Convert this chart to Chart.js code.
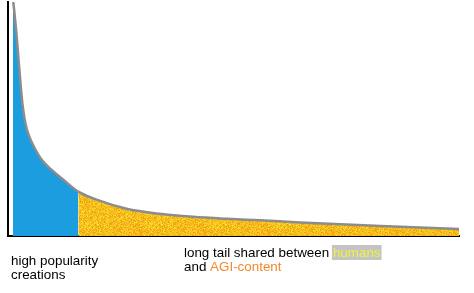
<!DOCTYPE html>
<html>
<head>
<title>Long tail</title>
<script src="https://cdn.jsdelivr.net/npm/chart.js"></script>
<style>
  body { margin: 0; background: #fff; }
  #wrap { width: 474px; height: 293px; }
</style>
</head>
<body>
<div id="wrap"><canvas id="tailChart" width="474" height="293"></canvas></div>
<script>
// popularity curve (x = rank, y = popularity)
var rankX = [5, 8, 10.5, 13, 14.5, 16.7, 19, 22.7, 27.7, 34, 44, 56, 70, 91, 118, 151, 184, 218, 251, 291, 371, 449];
var popY = [235, 205, 175, 145, 130, 115, 105, 95, 85, 75, 65, 55, 44, 35, 27, 22, 19, 17, 15.5, 13.5, 10, 7];
var headEnd = 70; // ranks up to here are the "high popularity" part

var headLabel = ['high popularity', 'creations'];
var tailLine1 = 'long tail shared between ';
var tailWord1 = 'humans';
var tailLine2 = 'and ';
var tailWord2 = 'AGI-content';

// speckled yellow/orange texture for the tail area
function noisePattern(ctx) {
  var c = document.createElement('canvas');
  c.width = 64; c.height = 64;
  var g = c.getContext('2d');
  var img = g.createImageData(64, 64);
  var seed = 12345;
  function rnd() { seed = (seed * 1103515245 + 12345) & 0x7fffffff; return seed / 0x7fffffff; }
  for (var i = 0; i < 64 * 64; i++) {
    var t = rnd();
    img.data[i * 4] = 250 - t * 10;
    img.data[i * 4 + 1] = 225 - t * 70;
    img.data[i * 4 + 2] = 40 - t * 20;
    img.data[i * 4 + 3] = 255;
  }
  g.putImageData(img, 0, 0);
  return ctx.createPattern(c, 'repeat');
}

var textPlugin = {
  id: 'captions',
  afterDraw: function (chart) {
    var ctx = chart.ctx;
    ctx.save();
    ctx.font = '13.4px "Liberation Sans", Arial, sans-serif';
    ctx.textBaseline = 'middle';
    ctx.fillStyle = '#000';
    ctx.fillText(headLabel[0], 11, 261);
    ctx.fillText(headLabel[1], 11, 275);

    var x = 184;
    ctx.fillText(tailLine1, x, 253);
    var w = ctx.measureText(tailLine1).width;
    var w2 = ctx.measureText(tailWord1).width;
    ctx.fillStyle = '#c4c4c4';
    ctx.fillRect(x + w - 1, 245, w2 + 2, 15);
    ctx.fillStyle = '#f2f23a';
    ctx.fillText(tailWord1, x + w, 253);

    ctx.fillStyle = '#000';
    ctx.fillText(tailLine2, x, 267);
    ctx.fillStyle = '#f28a2e';
    ctx.fillText(tailWord2, x + ctx.measureText(tailLine2).width, 267);
    ctx.restore();
  }
};

var ctx = document.getElementById('tailChart').getContext('2d');
var tailFill = noisePattern(ctx);
var chart = new Chart(ctx, {
  type: 'line',
  data: {
    datasets: [{
      data: rankX.map(function (x, i) { return { x: x, y: popY[i] }; }),
      borderColor: '#8c8c8c',
      borderWidth: 2.5,
      backgroundColor: '#1b9de0',
      fill: 'origin',
      pointRadius: 0,
      cubicInterpolationMode: 'monotone',
      segment: {
        backgroundColor: function (c) { return c.p0.parsed.x < headEnd ? '#1b9de0' : tailFill; }
      }
    }]
  },
  options: {
    responsive: false,
    animation: false,
    layout: { padding: { left: 8, right: 15, top: 2, bottom: 57 } },
    plugins: { legend: { display: false }, tooltip: { enabled: false } },
    scales: {
      x: {
        type: 'linear', min: 0, max: 449,
        grid: { display: false, drawTicks: false },
        ticks: { display: false },
        border: { display: true, color: '#000', width: 2 }
      },
      y: {
        min: 0, max: 232,
        grid: { display: false, drawTicks: false },
        ticks: { display: false },
        border: { display: true, color: '#000', width: 2 }
      }
    }
  },
  plugins: [textPlugin]
});
</script>
</body>
</html>
